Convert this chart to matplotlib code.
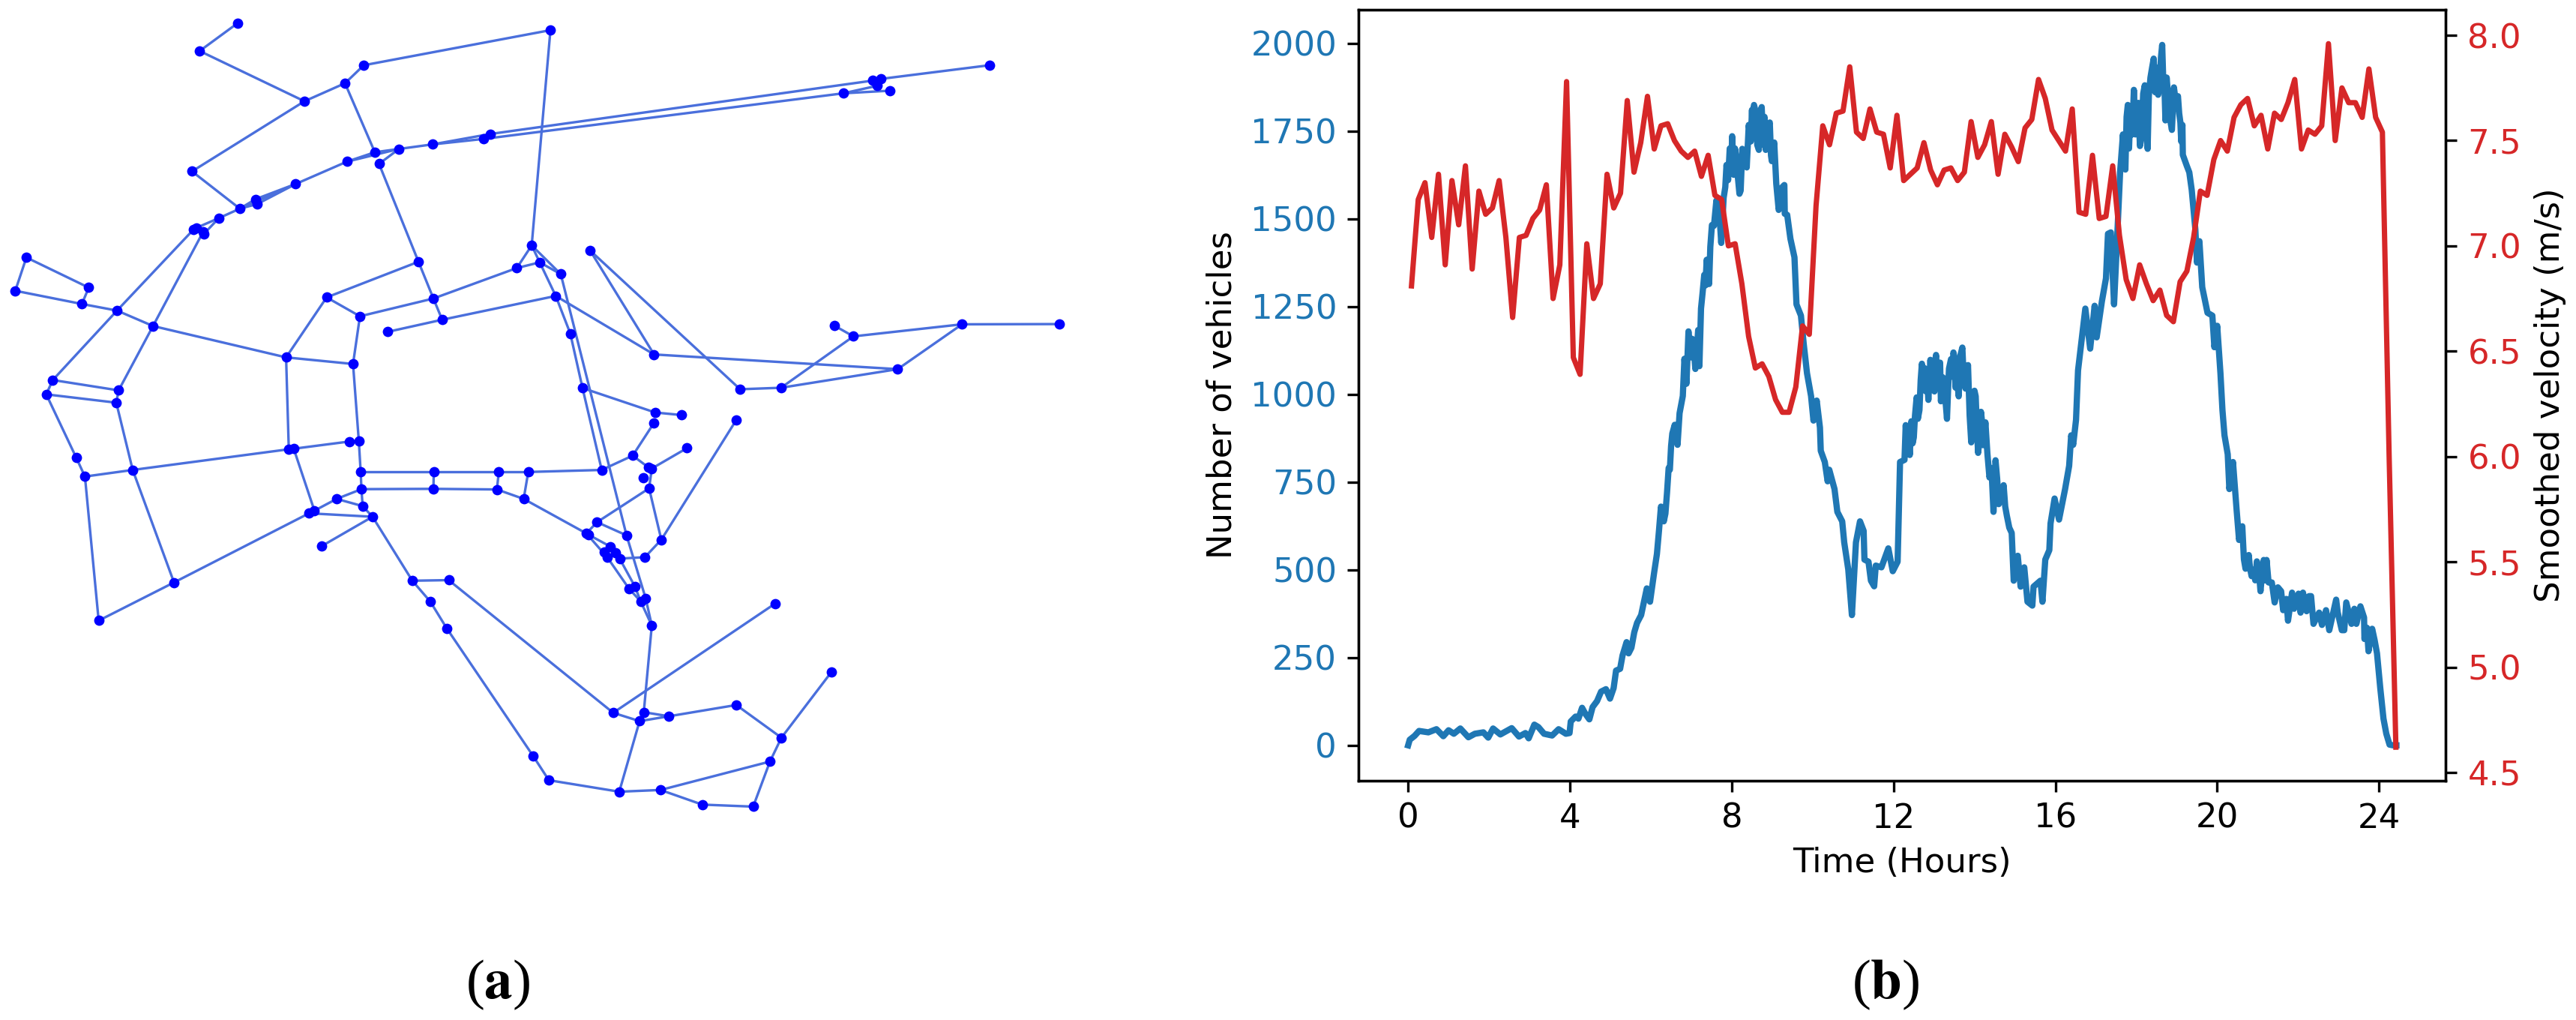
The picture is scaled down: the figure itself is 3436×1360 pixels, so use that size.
#!/usr/bin/env python
import numpy as np
import matplotlib
matplotlib.use('Agg')
import matplotlib.pyplot as plt

W, H = 3436, 1360
DPI = 300

# road network, node positions
node_x = [316.8, 266.3, 406.1, 460.2, 485.2, 734.2, 256.1, 500, 505.6, 462.8,
          532.1, 577, 645.4, 653.6, 394.4, 319.9, 340.8, 342.9, 291.8, 261.7,
          257.7, 270.9, 271.9, 35.2, 118.4, 20.4, 109.2, 156.1, 204.1, 558.2,
          435.7, 480.1, 578.1, 589.8, 517.3, 689.3, 709.2, 719.9, 748, 741.3,
          760.7, 787.2, 381.6, 470.9, 70.4, 158.2, 61.7, 155.1, 777, 385.2,
          391.8, 465.8, 478.6, 1320.4, 1163.8, 1175, 1169.9, 1187.2, 1125, 872.4,
          987.2, 1041.8, 1197.4, 1138.3, 1113.3, 1283.2, 1412.8, 874, 909.2, 871.9,
          982.1, 916.3, 101.5, 113.3, 177, 481.1, 578.6, 665.3, 704.6, 802.6,
          482.1, 578.1, 662.8, 698.5, 449, 483.7, 412.2, 419.4, 496.9, 428.6,
          232.1, 131.6, 550, 598.5, 574, 595.9, 711.2, 732.1, 843.9, 864.8,
          869.4, 858.2, 865.8, 796.4, 835.7, 782.1, 785.2, 882.1, 814.3, 806.1,
          821.4, 810.2, 826.5, 860.2, 838.8, 846.9, 854.6, 861.2, 869.4, 1033.7,
          1108.7, 817.9, 858.7, 853.1, 892.3, 982.1, 1042.3, 1027, 826, 881.1,
          936.7, 1004.6]
node_y = [31, 68, 135, 111, 87, 40.2, 228.5, 203, 218.5, 215.5,
          198.6, 192.5, 185.2, 178.7, 245.3, 278.2, 265.6, 272.1, 290.9, 303.9,
          306.5, 309.2, 311.9, 343.3, 383.5, 387.7, 405.3, 414.1, 434.7, 349,
          396.5, 421.7, 398, 426.3, 442.4, 357.4, 327.2, 349.8, 365.5, 394.6,
          444.7, 334.1, 476.5, 485.3, 506.7, 520.5, 525.8, 536.9, 517.4, 599,
          598.3, 588.7, 587.9, 86.9, 107.5, 105.2, 114.4, 120.9, 124.4, 472.6,
          519, 517, 492.2, 448.5, 434.4, 432.4, 432.1, 550, 553.4, 564.5,
          560, 597.5, 609.8, 635.4, 626.6, 629.3, 629.3, 629.3, 629.3, 626.6,
          652.2, 651.8, 652.6, 665.2, 665.2, 674.8, 684.4, 680.9, 689, 728.4,
          776.6, 827.5, 774.3, 773.5, 802.2, 837.8, 1008.1, 1040.3, 607.5, 623.1,
          624.7, 636.9, 651.1, 696.2, 713.8, 711.2, 713.1, 719.6, 728.8, 736,
          737.2, 743.3, 744.8, 742.9, 784.6, 782, 801.9, 797.7, 834, 804.9,
          896.4, 950.4, 949.6, 961.5, 955, 940, 983.6, 1015.4, 1055.6, 1053.3,
          1072.8, 1075.5]
edges = [(0, 1), (1, 2), (2, 3), (3, 4), (4, 5), (5, 36), (2, 6), (6, 15), (3, 7),
         (13, 54), (54, 55), (55, 53), (12, 58), (58, 57), (58, 56), (56, 55),
         (12, 11), (13, 11), (11, 10), (10, 7), (10, 9), (7, 9), (10, 8), (8, 29),
         (9, 14), (14, 15), (14, 16), (14, 17), (16, 15), (17, 15), (15, 18),
         (18, 19), (18, 22), (19, 20), (21, 22), (20, 27), (21, 28), (27, 26),
         (26, 25), (25, 23), (23, 24), (24, 26), (27, 28), (27, 44), (28, 45),
         (28, 42), (42, 43), (42, 30), (30, 29), (30, 31), (31, 43), (31, 32),
         (29, 32), (32, 33), (33, 34), (33, 39), (32, 35), (35, 36), (35, 37),
         (37, 38), (36, 38), (36, 37), (37, 39), (39, 40), (40, 48), (38, 104),
         (104, 117), (117, 118), (39, 59), (41, 59), (41, 60), (59, 62), (60, 61),
         (61, 62), (61, 63), (63, 64), (63, 65), (62, 65), (65, 66), (48, 67),
         (67, 68), (48, 79), (79, 78), (79, 98), (98, 69), (98, 99), (99, 100),
         (100, 71), (100, 102), (102, 103), (102, 107), (103, 104), (103, 105),
         (105, 106), (107, 70), (107, 113), (113, 112), (83, 105), (106, 108),
         (105, 111), (108, 109), (108, 110), (110, 112), (109, 111), (111, 114),
         (114, 116), (112, 115), (115, 116), (116, 118), (118, 122), (122, 124),
         (123, 124), (121, 123), (123, 128), (121, 119), (93, 121), (124, 125),
         (125, 126), (126, 120), (126, 127), (127, 131), (127, 129), (129, 128),
         (129, 130), (130, 131), (128, 97), (97, 96), (96, 95), (95, 94), (94, 92),
         (92, 93), (92, 88), (44, 46), (44, 45), (46, 47), (45, 47), (46, 72),
         (72, 73), (47, 74), (73, 74), (74, 49), (49, 50), (50, 51), (51, 52),
         (42, 49), (43, 52), (52, 75), (75, 80), (75, 76), (76, 77), (77, 78),
         (76, 81), (77, 82), (78, 83), (80, 81), (81, 82), (82, 83), (80, 85),
         (85, 88), (80, 84), (84, 85), (84, 87), (87, 86), (86, 88), (86, 90),
         (50, 87), (88, 89), (90, 91), (90, 74), (73, 91)]

# vehicles on the road over the day
veh_t = [0, .04, .16, .27, .5, .70, .87, 1.0, 1.13, 1.29, 1.49, 1.65, 1.86, 1.98, 2.10,
         2.28, 2.56, 2.74, 2.90, 2.98, 3.12, 3.22, 3.36, 3.56, 3.72, 3.90, 3.99, 4.02,
         4.14, 4.21, 4.30, 4.38, 4.48, 4.56, 4.67, 4.77, 4.89, 4.99, 5.08, 5.14, 5.24,
         5.30, 5.40, 5.45, 5.52, 5.59, 5.66, 5.76, 5.84, 5.90, 5.98, 6.08, 6.15, 6.20,
         6.32, 6.40, 6.47, 6.50, 6.53, 6.59, 6.66, 6.71, 6.79, 6.83, 6.93, 6.98, 7.02,
         7.10, 7.17, 7.24, 7.32, 7.38, 7.44, 7.51, 7.62, 7.63, 7.74, 7.87, 7.91, 8.01,
         8.05, 8.11, 8.19, 8.26, 8.37, 8.42, 8.55, 8.67, 8.74, 8.84, 8.94, 8.99, 9.05,
         9.16, 9.30, 9.31, 9.37, 9.45, 9.55, 9.60, 9.71, 9.78, 9.86, 9.96, 10.02, 10.10,
         10.18, 10.20, 10.30, 10.37, 10.41, 10.54, 10.61, 10.73, 10.78, 10.88, 10.97,
         11.07, 11.17, 11.26, 11.28, 11.38, 11.44, 11.52, 11.56, 11.70, 11.87, 11.98,
         12.10, 12.16, 12.27, 12.30, 12.40, 12.44, 12.50, 12.57, 12.64, 12.70, 12.79,
         12.86, 12.91, 13.01, 13.05, 13.13, 13.17, 13.22, 13.32, 13.37, 13.48, 13.53,
         13.61, 13.70, 13.78, 13.84, 13.92, 14.03, 14.09, 14.16, 14.21, 14.27, 14.37,
         14.47, 14.52, 14.60, 14.72, 14.80, 14.92, 14.97, 15.07, 15.14, 15.23, 15.31,
         15.43, 15.46, 15.63, 15.68, 15.75, 15.85, 15.88, 15.98, 16.09, 16.24, 16.34,
         16.39, 16.44, 16.51, 16.56, 16.66, 16.74, 16.86, 16.97, 17.02, 17.15, 17.25,
         17.30, 17.37, 17.45, 17.52, 17.60, 17.64, 17.70, 17.79, 17.88, 17.94, 18.01,
         18.09, 18.17, 18.28, 18.35, 18.43, 18.54, 18.64, 18.70, 18.75, 18.88, 18.93,
         19.03, 19.09, 19.14, 19.15, 19.25, 19.31, 19.37, 19.46, 19.50, 19.56, 19.63,
         19.76, 19.88, 19.93, 20.00, 20.08, 20.13, 20.18, 20.26, 20.30, 20.39, 20.48,
         20.54, 20.62, 20.70, 20.78, 20.85, 20.98, 21.07, 21.15, 21.22, 21.27, 21.35,
         21.42, 21.50, 21.58, 21.63, 21.71, 21.75, 21.85, 21.90, 22.01, 22.06, 22.12,
         22.21, 22.27, 22.32, 22.38, 22.52, 22.59, 22.69, 22.77, 22.94, 22.98, 23.08,
         23.14, 23.19, 23.32, 23.39, 23.44, 23.54, 23.63, 23.64, 23.70, 23.74, 23.83,
         23.89, 23.95, 24.03, 24.11, 24.18, 24.26, 24.35, 24.43]
veh_n = [0, 16, 27, 41, 37, 46, 26, 43, 33, 48, 23, 33, 37, 22, 48,
         31, 49, 25, 35, 20, 59, 52, 33, 28, 46, 33, 35, 68,
         82, 76, 107, 90, 74, 109, 126, 153, 160, 133, 163, 213, 218,
         256, 294, 262, 278, 322, 349, 371, 414, 447, 409, 491, 545, 610,
         638, 720, 785, 852, 888, 913, 856, 946, 995, 1101, 1179, 1105, 1158,
         1072, 1183, 1244, 1340, 1383, 1314, 1482, 1552, 1489, 1431, 1653, 1610, 1735,
         1625, 1675, 1571, 1699, 1646, 1767, 1824, 1696, 1818, 1696, 1774, 1664, 1717,
         1525, 1596, 1514, 1511, 1443, 1390, 1256, 1224, 1142, 1060, 995, 925, 982,
         905, 839, 807, 752, 785, 730, 665, 638, 578, 501, 371,
         578, 638, 611, 529, 523, 469, 453, 512, 507, 561, 496,
         523, 807, 813, 912, 827, 923, 877, 991, 955, 1087, 1009,
         984, 1098, 1008, 1112, 1076, 980, 1048, 930, 1073, 1119, 1019,
         994, 1133, 1016, 1083, 863, 994, 833, 950, 855, 920, 763,
         665, 812, 687, 741, 654, 605, 469, 540, 452, 507, 409,
         398, 452, 469, 409, 529, 556, 632, 703, 643, 730, 796,
         883, 856, 927, 1068, 1166, 1244, 1130, 1252, 1162, 1265, 1330,
         1457, 1461, 1256, 1428, 1633, 1696, 1675, 1824, 1739, 1867, 1810,
         1707, 1856, 1699, 1902, 1956, 1853, 1995, 1860, 1902, 1753, 1874,
         1849, 1774, 1767, 1682, 1650, 1632, 1582, 1469, 1375, 1436, 1305,
         1232, 1224, 1134, 1195, 1060, 954, 883, 829, 730, 807, 670,
         585, 624, 503, 542, 482, 524, 439, 528, 528, 464, 464,
         407, 450, 439, 385, 417, 355, 435, 389, 432, 378, 435,
         382, 425, 425, 346, 378, 343, 385, 328, 415, 378, 328,
         328, 407, 346, 389, 346, 396, 364, 303, 335, 268, 332,
         300, 262, 164, 76, 33, 2, 0, 0]

# the finer wiggle inside the busy stretches, merged in by time below
wiggle_t = [6.25, 6.36, 6.44, 6.88, 7.06, 7.20, 7.28, 7.35, 7.47, 7.56, 7.68, 7.80, 7.84,
            7.95, 7.98, 8.08, 8.15, 8.22, 8.31, 8.47, 8.50, 8.52, 8.60, 8.63, 8.70, 8.78,
            8.81, 8.88, 8.91, 8.97, 9.02, 9.10, 9.20, 9.25,
            12.33, 12.36, 12.47, 12.53, 12.60, 12.67, 12.73, 12.76, 12.82, 12.94, 12.97,
            13.03, 13.09, 13.15, 13.20, 13.27, 13.35, 13.42, 13.45, 13.51, 13.57, 13.65,
            13.74, 13.81, 13.88, 13.97, 14.00, 14.06, 14.13, 14.18, 14.24, 14.32, 14.42,
            14.56, 14.66, 14.76, 14.86,
            17.67, 17.73, 17.76, 17.82, 17.85, 17.91, 17.98, 18.05, 18.13, 18.21, 18.25,
            18.31, 18.39, 18.47, 18.50, 18.58, 18.61, 18.67, 18.72, 18.80, 18.84, 18.98,
            19.06, 19.11,
            20.66, 20.74, 20.81, 20.90, 20.94, 21.02, 21.11, 21.19]
wiggle_n = [680, 660, 790, 1030, 1130, 1080, 1290, 1310, 1420, 1480, 1540, 1560, 1590,
            1700, 1630, 1700, 1620, 1580, 1690, 1720, 1810, 1730, 1800, 1710, 1800, 1710,
            1790, 1720, 1765, 1680, 1700, 1600, 1540, 1590,
            840, 900, 860, 940, 930, 1040, 1030, 1075, 1070, 1020, 1085,
            1095, 1030, 1090, 1010, 1000, 1020, 1100, 1050, 1100, 1040, 1110,
            1030, 1060, 940, 970, 1010, 900, 880, 930, 870, 830, 790,
            760, 700, 680, 620,
            1740, 1640, 1790, 1700, 1800, 1770, 1740, 1830, 1730, 1880, 1780,
            1850, 1930, 1860, 1930, 1880, 1960, 1880, 1780, 1830, 1780, 1830,
            1800, 1720,
            530, 510, 505, 500, 470, 510, 490, 470]

# smoothed velocity, one value every ten minutes
vel = [6.81, 7.22, 7.30, 7.04, 7.34, 6.91, 7.31, 7.10, 7.38, 6.89,
       7.26, 7.15, 7.18, 7.31, 7.04, 6.66, 7.04, 7.05, 7.13, 7.17,
       7.29, 6.75, 6.91, 7.78, 6.47, 6.39, 7.01, 6.75, 6.82, 7.34,
       7.18, 7.25, 7.69, 7.35, 7.49, 7.71, 7.46, 7.57, 7.58, 7.50,
       7.45, 7.42, 7.45, 7.33, 7.43, 7.24, 7.22, 7.00, 7.01, 6.82,
       6.57, 6.42, 6.44, 6.38, 6.27, 6.21, 6.21, 6.33, 6.62, 6.58,
       7.19, 7.57, 7.48, 7.63, 7.64, 7.85, 7.54, 7.51, 7.65, 7.54,
       7.53, 7.37, 7.62, 7.31, 7.34, 7.37, 7.49, 7.36, 7.29, 7.36,
       7.37, 7.31, 7.35, 7.59, 7.42, 7.48, 7.59, 7.34, 7.53, 7.47,
       7.40, 7.56, 7.60, 7.79, 7.70, 7.55, 7.50, 7.45, 7.65, 7.16,
       7.15, 7.43, 7.13, 7.14, 7.38, 7.05, 6.84, 6.75, 6.91, 6.82,
       6.74, 6.79, 6.67, 6.64, 6.83, 6.88, 7.04, 7.26, 7.24, 7.41,
       7.50, 7.45, 7.61, 7.67, 7.70, 7.57, 7.62, 7.46, 7.63, 7.60,
       7.68, 7.79, 7.46, 7.55, 7.53, 7.57, 7.96, 7.50, 7.75, 7.68,
       7.68, 7.61, 7.84, 7.61, 7.54, 6.00, 4.62]
vel_t = 0.0833 + np.arange(len(vel)) / 6.0

hour_ticks = [0, 4, 8, 12, 16, 20, 24]

plt.rcParams['mathtext.fontset'] = 'stix'
plt.rcParams['font.size'] = 10.8

fig = plt.figure(figsize=(W / DPI + 1e-6, H / DPI + 1e-6), dpi=DPI)

# (a) network, drawn on a map frame with the same scale as the figure
ax_map = fig.add_axes([0, 0, 1500 / W, 1])
for a, b in edges:
    ax_map.plot([node_x[a], node_x[b]], [node_y[a], node_y[b]],
                color='#4a6fdc', lw=0.8, zorder=1)
ax_map.scatter(node_x, node_y, s=11, color='blue', linewidths=0, zorder=2)
ax_map.set_xlim(0, 1500)
ax_map.set_ylim(H, 0)
ax_map.axis('off')

# (b) vehicles and velocity
all_t = np.array(veh_t + wiggle_t)
all_n = np.array(veh_n + wiggle_n)
order = np.argsort(all_t, kind='stable')

ax = fig.add_axes([1812.4 / W, (H - 1040.6) / H, 1449.9 / W, 1028 / H])
ax.plot(all_t[order], all_n[order], color='tab:blue', lw=2.0)
ax.set_xlim(-1.22, 25.65)
ax.set_ylim(-100, 2096)
ax.set_xticks(hour_ticks)
ax.set_xlabel('Time (Hours)')
ax.set_ylabel('Number of vehicles')
ax.tick_params(axis='y', labelcolor='tab:blue')

ax2 = ax.twinx()
ax2.plot(vel_t, vel, color='tab:red', lw=1.7)
ax2.set_ylim(4.462, 8.1225)
ax2.set_yticks([4.5, 5.0, 5.5, 6.0, 6.5, 7.0, 7.5, 8.0])
ax2.set_ylabel('Smoothed velocity (m/s)')
ax2.tick_params(axis='y', labelcolor='tab:red')

for label, x_px in (('a', 664), ('b', 2515)):
    fig.text(x_px / W, 1 - 1313 / H, '(' + r'$\mathbf{' + label + '}$' + ')',
             family='Liberation Serif', fontsize=18, ha='center', va='center')

fig.savefig('out.png', dpi=DPI)
